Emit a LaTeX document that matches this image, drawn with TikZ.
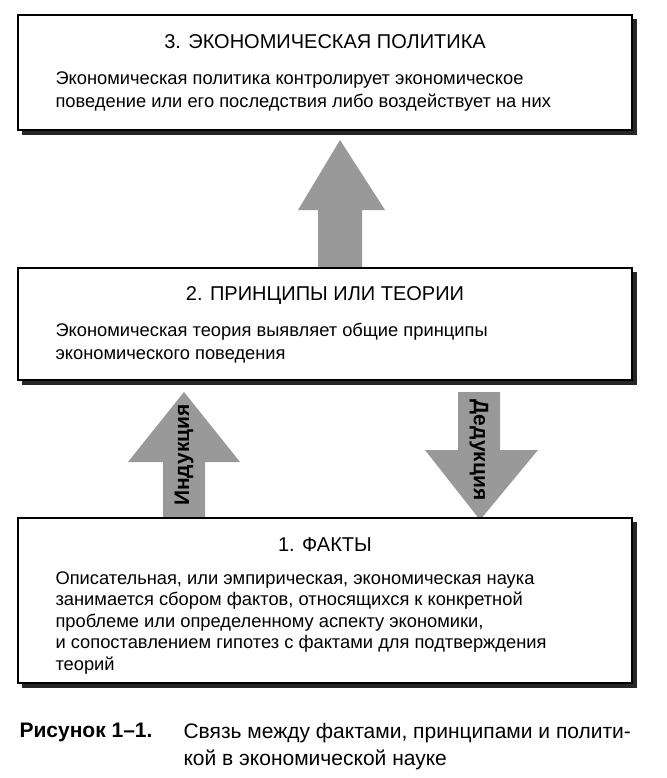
\documentclass[tikz,border=0pt]{standalone}
\usepackage{fontspec}
\setmainfont{Liberation Sans}
\begin{document}
\begin{tikzpicture}[x=1pt,y=-1pt,
  box/.style={draw=black,line width=1.2pt,fill=white},
  shadowbox/.style={fill=black!85},
  arr/.style={fill=black!40},
  ttl/.style={font=\fontsize{20}{22}\selectfont,anchor=center},
  body/.style={font=\fontsize{18.3}{21.5}\selectfont,anchor=north west,align=left}]
\useasboundingbox (0,0) rectangle (666,778);
% arrows
\fill[arr] (340,140) -- (385,210) -- (362,210) -- (362,268) -- (318,268) -- (318,210) -- (298,210) -- cycle;
\fill[arr] (184,392) -- (240,462) -- (205,462) -- (205,518) -- (163,518) -- (163,462) -- (128,462) -- cycle;
\node[rotate=90,font=\bfseries\fontsize{21}{24}\selectfont] (ind) at (184,455) {Индукция};
\fill[arr] (458,392) -- (500,392) -- (500,450) -- (538,450) -- (480,520) -- (425,450) -- (458,450) -- cycle;
\node[rotate=-90,font=\bfseries\fontsize{21}{24}\selectfont] (ded) at (479,450) {Дедукция};
% boxes
\fill[shadowbox] (22,19) rectangle (637,135);
\draw[box] (18,15) rectangle (632,130);
\node[ttl] (t3) at (325,42) {3. ЭКОНОМИЧЕСКАЯ ПОЛИТИКА};
\node[body] (b3) at (52,68) {Экономическая политика контролирует экономическое\\[1.5pt]поведение или его последствия либо воздействует на них};
\fill[shadowbox] (22,272) rectangle (637,385);
\draw[box] (18,268) rectangle (632,380);
\node[ttl] (t2) at (325,296) {2. ПРИНЦИПЫ ИЛИ ТЕОРИИ};
\node[body] (b2) at (52,320) {Экономическая теория выявляет общие принципы\\[1.5pt]экономического поведения};
\fill[shadowbox] (22,522) rectangle (637,688);
\draw[box] (18,518) rectangle (632,683);
\node[ttl] (t1) at (325,545) {1. ФАКТЫ};
\node[body] (b1) at (52,568) {Описательная, или эмпирическая, экономическая наука\\занимается сбором фактов, относящихся к конкретной\\проблеме или определенному аспекту экономики,\\и сопоставлением гипотез с фактами для подтверждения\\теорий};
% caption
\node[anchor=north west,font=\bfseries\fontsize{21}{24}\selectfont] (cap) at (16,720) {Рисунок 1--1.};
\node[anchor=north west,align=left,font=\fontsize{21}{27}\selectfont] (capt) at (180,720) {Связь между фактами, принципами и полити-\\кой в экономической науке};
\end{tikzpicture}
\end{document}
